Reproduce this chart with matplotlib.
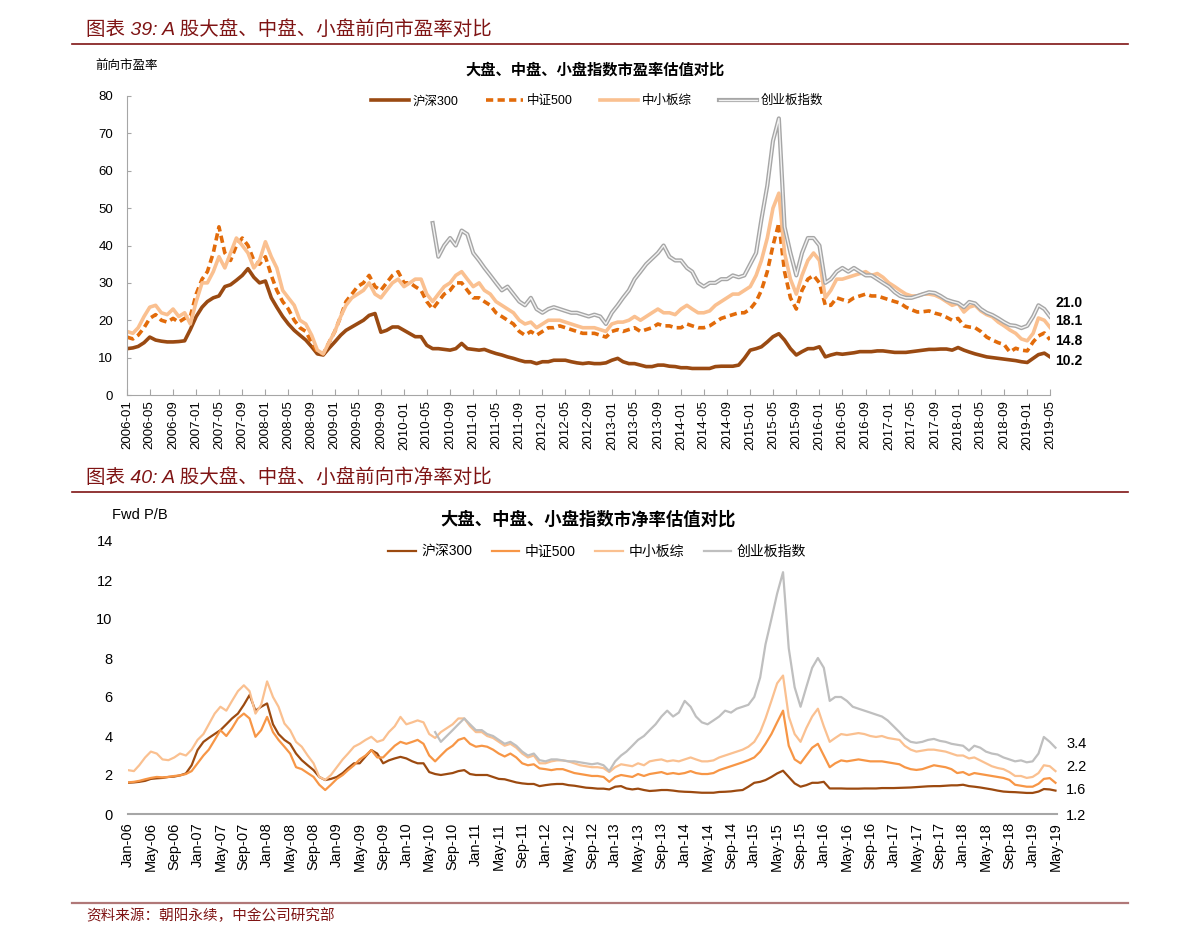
"""
A-share large / mid / small cap forward P/E and P/B comparison (two stacked panels).
Monthly values read off the reference chart.
"""

import pandas as pd
import matplotlib
matplotlib.use("Agg")
import matplotlib.pyplot as plt
import matplotlib.dates as mdates
import matplotlib.patheffects as pe
from matplotlib.lines import Line2D
from matplotlib.transforms import blended_transform_factory

plt.rcParams["font.family"] = ["Liberation Sans", "Noto Sans CJK SC", "DejaVu Sans"]

MONTHS = pd.date_range("2006-01-01", periods=161, freq="MS")
GEM_MONTHS = pd.date_range("2010-06-01", periods=108, freq="MS")  # 创业板 starts mid-2010

SERIES_NAMES = ["沪深300", "中证500", "中小板综", "创业板指数"]

# ---- forward P/E (top panel) ----
hs300_pe = [
    12.4, 12.6, 13.0, 14.0, 15.5, 14.7, 14.4, 14.2, 14.2, 14.3, 14.5, 17.5,
    21.0, 23.5, 25.0, 26.0, 26.5, 29.0, 29.5, 30.7, 32.0, 33.8, 31.5, 30.0,
    30.5, 26.0, 23.5, 21.0, 19.0, 17.3, 16.0, 14.7, 12.9, 11.0, 10.7, 12.5,
    14.2, 16.0, 17.3, 18.2, 19.1, 20.0, 21.3, 21.8, 16.8, 17.3, 18.2, 18.2,
    17.3, 16.4, 15.6, 15.6, 13.3, 12.4, 12.4, 12.2, 12.0, 12.4, 13.8, 12.4,
    12.2, 12.0, 12.2, 11.6, 11.1, 10.7, 10.2, 9.8, 9.3, 8.9, 8.9, 8.4,
    8.9, 8.9, 9.3, 9.3, 9.3, 8.9, 8.6, 8.4, 8.6, 8.4, 8.4, 8.6,
    9.3, 9.8, 8.9, 8.4, 8.4, 8.0, 7.6, 7.6, 8.0, 8.0, 7.7, 7.6,
    7.3, 7.3, 7.1, 7.1, 7.1, 7.1, 7.6, 7.7, 7.7, 7.7, 8.0, 9.8,
    12.0, 12.4, 12.9, 14.2, 15.6, 16.4, 14.7, 12.4, 10.7, 11.6, 12.4, 12.4,
    12.9, 10.2, 10.7, 11.1, 10.9, 11.1, 11.3, 11.6, 11.6, 11.6, 11.8, 11.8,
    11.6, 11.4, 11.4, 11.4, 11.6, 11.8, 12.0, 12.2, 12.2, 12.3, 12.3, 12.0,
    12.7, 12.0, 11.5, 11.0, 10.6, 10.2, 10.0, 9.8, 9.6, 9.4, 9.2, 8.9,
    8.7, 9.8, 10.8, 11.2, 10.2,
]
csi500_pe = [
    15.5, 15.0, 16.0, 18.0, 20.5, 21.5, 20.0, 19.5, 20.5, 19.5, 20.5, 21.0,
    27.0, 31.0, 33.0, 38.0, 45.0, 38.0, 36.0, 40.0, 42.0, 40.0, 36.0, 35.0,
    37.0, 32.0, 28.0, 25.0, 23.0, 20.0, 18.0, 17.0, 14.0, 11.5, 11.0, 14.0,
    17.0, 21.0, 25.0, 27.0, 29.0, 30.0, 32.0, 29.0, 28.0, 30.0, 32.0, 33.0,
    30.0, 30.0, 29.0, 28.0, 25.0, 23.0, 25.0, 27.0, 28.0, 30.0, 30.0, 28.0,
    26.0, 26.0, 25.0, 24.0, 22.0, 21.0, 20.0, 19.0, 17.0, 16.0, 17.0, 16.0,
    17.0, 18.0, 18.0, 18.5, 18.0, 17.5, 17.0, 16.5, 16.5, 16.5, 16.0, 15.5,
    17.0, 17.5, 17.0, 17.5, 18.0, 17.0, 17.5, 18.0, 19.0, 18.5, 18.5, 18.0,
    18.0, 19.0, 18.5, 18.0, 18.0, 18.5, 19.5, 20.5, 21.0, 21.5, 22.0, 22.0,
    23.0, 25.0, 28.0, 33.0, 40.0, 46.0, 33.0, 26.0, 23.0, 28.0, 31.0, 32.0,
    30.0, 24.0, 24.0, 26.0, 25.5, 25.0, 26.0, 26.5, 27.0, 26.5, 26.5, 26.0,
    25.5, 25.0, 24.6, 23.5, 22.8, 22.2, 22.3, 22.5, 21.9, 21.5, 20.8, 20.0,
    20.5, 18.5, 18.2, 18.0, 17.0, 15.5, 14.7, 14.0, 13.5, 11.5, 12.5, 12.0,
    11.8, 14.2, 15.8, 16.6, 14.8,
]
sme_pe = [
    17.0, 16.5, 18.0, 21.0, 23.5, 24.0, 22.0, 21.5, 23.0, 21.0, 22.0, 19.0,
    25.0, 30.0, 30.0, 33.0, 37.0, 34.0, 38.0, 42.0, 40.0, 38.0, 34.0, 36.0,
    41.0, 37.0, 34.0, 28.0, 26.0, 24.0, 20.0, 19.0, 16.0, 12.0, 11.0, 14.0,
    17.0, 21.0, 24.0, 26.0, 27.0, 28.0, 30.0, 27.0, 26.0, 28.0, 30.0, 31.0,
    29.0, 30.0, 31.0, 31.0, 27.0, 25.0, 27.0, 29.0, 30.0, 32.0, 33.0, 31.0,
    29.0, 30.0, 28.0, 27.0, 25.0, 24.0, 23.0, 22.0, 20.0, 19.0, 19.5, 18.0,
    19.0, 20.0, 20.0, 20.0, 19.5, 19.0, 18.5, 18.0, 18.0, 18.0, 17.5, 17.0,
    19.0, 19.5, 19.5, 20.0, 21.0, 20.0, 21.0, 22.0, 23.0, 22.0, 22.0, 21.5,
    23.0, 24.0, 23.0, 22.0, 22.0, 22.5, 24.0, 25.0, 26.0, 27.0, 27.0, 28.0,
    29.0, 32.0, 36.0, 42.0, 50.0, 54.0, 38.0, 31.0, 27.0, 32.0, 36.0, 38.0,
    36.0, 26.0, 28.0, 31.0, 31.0, 31.5, 32.0, 32.5, 33.0, 32.0, 32.5, 31.5,
    30.0, 29.0, 28.0, 27.0, 26.5, 26.5, 27.0, 27.0, 26.7, 26.0, 25.0, 24.0,
    24.5, 22.2, 23.5, 24.0, 22.5, 21.5, 20.9, 19.5, 18.5, 17.4, 16.5, 15.0,
    14.5, 16.5, 20.6, 20.0, 18.1,
]
gem_pe = [
    46.0, 37.0, 40.0, 42.0, 40.0, 44.0, 43.0,
    38.0, 36.0, 34.0, 32.0, 30.0, 28.0, 29.0, 27.0, 25.0, 24.0, 26.0, 23.0,
    22.0, 23.0, 23.5, 23.0, 22.5, 22.0, 22.0, 21.5, 21.0, 21.5, 21.0, 19.0,
    22.0, 24.0, 26.0, 28.0, 31.0, 33.0, 35.0, 36.5, 38.0, 40.0, 37.0, 36.0,
    36.0, 34.0, 33.0, 30.0, 29.0, 30.0, 30.0, 31.0, 31.0, 32.0, 31.5, 32.0,
    35.0, 38.0, 47.0, 56.0, 68.0, 74.0, 45.0, 38.0, 32.0, 38.0, 42.0, 42.0,
    40.0, 30.0, 31.0, 33.0, 34.0, 33.0, 34.0, 33.0, 32.0, 32.0, 31.0, 30.0,
    29.0, 27.5, 26.5, 26.0, 26.0, 26.5, 27.0, 27.5, 27.3, 26.5, 25.5, 25.0,
    24.6, 23.5, 24.9, 24.5, 23.0, 22.0, 21.4, 20.5, 19.5, 18.7, 18.5, 17.9,
    18.5, 21.0, 24.0, 23.0, 21.0,
]

# ---- forward P/B (bottom panel) ----
hs300_pb = [
    1.60, 1.62, 1.65, 1.70, 1.80, 1.83, 1.85, 1.90, 1.92, 1.98, 2.08, 2.50,
    3.28, 3.70, 3.90, 4.10, 4.30, 4.60, 4.90, 5.15, 5.60, 6.10, 5.30, 5.50,
    5.67, 4.60, 4.10, 3.80, 3.60, 3.10, 2.76, 2.50, 2.25, 1.90, 1.74, 1.80,
    1.90, 2.10, 2.35, 2.60, 2.60, 2.95, 3.28, 3.10, 2.60, 2.75, 2.85, 2.93,
    2.85, 2.70, 2.60, 2.60, 2.15, 2.05, 2.00, 2.05, 2.10, 2.20, 2.25, 2.05,
    2.00, 2.00, 2.00, 1.90, 1.80, 1.78, 1.70, 1.62, 1.57, 1.54, 1.54, 1.43,
    1.48, 1.52, 1.54, 1.54, 1.48, 1.45, 1.40, 1.35, 1.33, 1.30, 1.30, 1.26,
    1.40, 1.43, 1.31, 1.26, 1.30, 1.23, 1.18, 1.20, 1.23, 1.23, 1.20, 1.16,
    1.14, 1.13, 1.11, 1.09, 1.09, 1.09, 1.13, 1.14, 1.16, 1.20, 1.23, 1.40,
    1.60, 1.65, 1.74, 1.90, 2.08, 2.22, 1.90, 1.57, 1.40, 1.48, 1.60, 1.60,
    1.65, 1.31, 1.31, 1.31, 1.30, 1.30, 1.30, 1.31, 1.31, 1.31, 1.33, 1.33,
    1.33, 1.34, 1.35, 1.36, 1.38, 1.40, 1.42, 1.43, 1.43, 1.45, 1.47, 1.47,
    1.50, 1.43, 1.40, 1.36, 1.31, 1.26, 1.20, 1.15, 1.13, 1.12, 1.10, 1.08,
    1.08, 1.15, 1.28, 1.26, 1.20,
]
csi500_pb = [
    1.62, 1.65, 1.70, 1.78, 1.85, 1.90, 1.88, 1.90, 1.95, 1.98, 2.05, 2.20,
    2.60, 3.00, 3.30, 3.80, 4.30, 4.00, 4.40, 4.90, 5.15, 4.90, 3.96, 4.30,
    4.98, 4.20, 3.80, 3.45, 3.10, 2.40, 2.30, 2.10, 1.90, 1.50, 1.23, 1.50,
    1.80, 2.00, 2.25, 2.50, 2.80, 3.00, 3.28, 2.90, 2.90, 3.20, 3.50, 3.70,
    3.60, 3.70, 3.80, 3.60, 3.00, 2.70, 3.00, 3.30, 3.50, 3.80, 3.90, 3.60,
    3.45, 3.50, 3.45, 3.30, 3.10, 2.95, 3.10, 2.90, 2.60, 2.50, 2.55, 2.34,
    2.30, 2.25, 2.30, 2.30, 2.20, 2.10, 2.05, 2.00, 1.95, 1.95, 1.90, 1.65,
    1.90, 2.00, 1.95, 1.90, 2.05, 1.95, 2.05, 2.10, 2.15, 2.05, 2.10, 2.05,
    2.10, 2.20, 2.10, 2.05, 2.05, 2.10, 2.25, 2.35, 2.45, 2.55, 2.65, 2.76,
    2.90, 3.20, 3.60, 4.10, 4.70, 5.30, 3.50, 2.80, 2.60, 3.00, 3.40, 3.60,
    3.00, 2.40, 2.60, 2.75, 2.70, 2.75, 2.80, 2.75, 2.70, 2.70, 2.70, 2.65,
    2.60, 2.55, 2.40, 2.30, 2.26, 2.30, 2.40, 2.50, 2.45, 2.40, 2.30, 2.10,
    2.15, 2.00, 2.10, 2.05, 2.00, 1.95, 1.90, 1.85, 1.75, 1.50, 1.45, 1.40,
    1.40, 1.55, 1.80, 1.84, 1.60,
]
sme_pb = [
    2.25, 2.20, 2.50, 2.90, 3.20, 3.10, 2.80, 2.76, 2.90, 3.10, 3.00, 3.30,
    3.80, 4.10, 4.60, 5.15, 5.50, 5.30, 5.80, 6.30, 6.60, 6.30, 5.15, 5.60,
    6.80, 6.00, 5.50, 4.64, 4.30, 3.70, 3.45, 3.00, 2.60, 1.90, 1.75, 2.00,
    2.40, 2.80, 3.10, 3.45, 3.60, 3.80, 3.96, 3.70, 3.80, 4.20, 4.50, 4.98,
    4.60, 4.70, 4.80, 4.70, 4.10, 3.90, 4.20, 4.40, 4.60, 4.90, 4.90, 4.50,
    4.20, 4.20, 4.00, 3.90, 3.70, 3.50, 3.60, 3.40, 3.10, 2.90, 3.00, 2.60,
    2.60, 2.70, 2.75, 2.75, 2.70, 2.60, 2.50, 2.45, 2.40, 2.40, 2.35, 2.15,
    2.40, 2.55, 2.50, 2.45, 2.60, 2.50, 2.70, 2.76, 2.80, 2.70, 2.75, 2.70,
    2.80, 2.90, 2.80, 2.70, 2.70, 2.75, 2.90, 3.00, 3.10, 3.20, 3.30, 3.45,
    3.70, 4.20, 4.90, 5.80, 6.70, 7.10, 5.00, 4.10, 3.70, 4.40, 5.00, 5.40,
    4.50, 3.70, 3.90, 4.10, 4.05, 4.10, 4.15, 4.10, 4.00, 3.95, 4.00, 3.90,
    3.85, 3.80, 3.50, 3.30, 3.20, 3.25, 3.30, 3.30, 3.25, 3.20, 3.10, 3.00,
    3.00, 2.85, 2.90, 2.75, 2.60, 2.45, 2.36, 2.30, 2.15, 1.95, 1.95, 1.85,
    1.90, 2.10, 2.50, 2.45, 2.20,
]
gem_pb = [
    4.20, 3.70, 4.00, 4.30, 4.60, 4.90, 4.60,
    4.30, 4.30, 4.10, 4.00, 3.80, 3.60, 3.70, 3.50, 3.20, 3.00, 3.10, 2.76,
    2.70, 2.80, 2.80, 2.75, 2.70, 2.70, 2.65, 2.60, 2.55, 2.60, 2.50, 2.20,
    2.70, 3.00, 3.20, 3.50, 3.80, 4.00, 4.30, 4.60, 5.00, 5.30, 5.00, 5.20,
    5.80, 5.50, 5.00, 4.70, 4.60, 4.80, 5.00, 5.30, 5.20, 5.40, 5.50, 5.60,
    6.00, 7.00, 8.70, 10.0, 11.3, 12.4, 8.50, 6.50, 5.50, 6.50, 7.50, 8.00,
    7.50, 5.80, 6.00, 6.00, 5.80, 5.50, 5.40, 5.30, 5.20, 5.10, 5.00, 4.80,
    4.50, 4.20, 3.90, 3.70, 3.65, 3.70, 3.80, 3.85, 3.75, 3.70, 3.60, 3.55,
    3.50, 3.25, 3.50, 3.40, 3.20, 3.10, 3.05, 2.90, 2.80, 2.70, 2.75, 2.65,
    2.70, 3.10, 3.95, 3.70, 3.40,
]

# where the end-value labels sit (data units), copied from the reference layout
PE_LABEL_Y = [24.6, 19.8, 14.4, 9.1]
PB_LABEL_Y = [3.59, 2.41, 1.23, -0.1]

DARK_RED = "#7F1414"
GRID_GRAY = "#A6A6A6"

W, H = 1191, 944


def fx(px):
    return px / W


def fy(py):
    return 1 - py / H


fig = plt.figure(figsize=(W / 100, H / 100), dpi=100)

# ---------------- section headers / rules ----------------
fig.text(fx(86), fy(30), "图表 39: A 股大盘、中盘、小盘前向市盈率对比", fontsize=14,
         color=DARK_RED, style="italic", va="center", ha="left")
fig.add_artist(Line2D([fx(72), fx(1128)], [fy(44), fy(44)], color=DARK_RED, lw=1.2))
fig.text(fx(86), fy(478), "图表 40: A 股大盘、中盘、小盘前向市净率对比", fontsize=14,
         color=DARK_RED, style="italic", va="center", ha="left")
fig.add_artist(Line2D([fx(72), fx(1128)], [fy(492), fy(492)], color=DARK_RED, lw=1.2))
fig.add_artist(Line2D([fx(72), fx(1128)], [fy(903), fy(903)], color="#B07878", lw=1.6))
fig.text(fx(86), fy(916), "资料来源：朝阳永续，中金公司研究部", fontsize=10.5,
         color=DARK_RED, style="italic", va="center", ha="left")

# ---------------- top panel: forward P/E ----------------
ax1 = fig.add_axes([fx(127), fy(395), fx(1050) - fx(127), fy(96) - fy(395)])
ax1.plot(MONTHS, hs300_pe, color="#9A4A12", lw=2.6, label=SERIES_NAMES[0])
ax1.plot(MONTHS, csi500_pe, color="#E26B0A", lw=2.6, ls=(0, (2.0, 1.2)), label=SERIES_NAMES[1])
ax1.plot(MONTHS, sme_pe, color="#FAC090", lw=2.6, label=SERIES_NAMES[2])
ax1.plot(GEM_MONTHS, gem_pe, color="#F2F2F2", lw=1.0, label=SERIES_NAMES[3],
         path_effects=[pe.Stroke(linewidth=3.0, foreground="#A6A6A6"), pe.Normal()])

ax1.set_ylim(0, 80)
ax1.set_yticks(range(0, 81, 10))
ax1.set_xlim(MONTHS[0], MONTHS[-1])
ax1.xaxis.set_major_locator(mdates.MonthLocator(bymonth=(1, 5, 9)))
ax1.xaxis.set_major_formatter(mdates.DateFormatter("%Y-%m"))
for side in ("top", "right"):
    ax1.spines[side].set_visible(False)
for side in ("left", "bottom"):
    ax1.spines[side].set_color(GRID_GRAY)
ax1.tick_params(axis="x", direction="in", length=4, color=GRID_GRAY, labelsize=9.5,
                labelrotation=90, pad=4)
ax1.tick_params(axis="y", direction="in", length=3, color=GRID_GRAY, labelsize=9.5, pad=10)

trans1 = blended_transform_factory(ax1.transAxes, ax1.transData)
pe_ends = [gem_pe[-1], sme_pe[-1], csi500_pe[-1], hs300_pe[-1]]
for val, ypos in zip(pe_ends, PE_LABEL_Y):
    ax1.text(1.006, ypos, f"{val:.1f}", transform=trans1, fontsize=10, fontweight="bold",
             va="center", ha="left")

fig.text(fx(95), fy(66), "前向市盈率", fontsize=9, va="center", ha="left")
fig.text(fx(595), fy(70), "大盘、中盘、小盘指数市盈率估值对比", fontsize=11, fontweight="bold",
         va="center", ha="center")
h1, l1 = ax1.get_legend_handles_labels()
fig.legend(h1, l1, loc="center", bbox_to_anchor=(fx(597), fy(101)), ncol=4, frameon=False,
           fontsize=9, handlelength=3.0, handletextpad=0.3, columnspacing=2.2)

# ---------------- bottom panel: forward P/B ----------------
ax2 = fig.add_axes([fx(128), fy(814), fx(1057) - fx(128), fy(541) - fy(814)])
ax2.plot(MONTHS, hs300_pb, color="#9C4A10", lw=1.6, label=SERIES_NAMES[0])
ax2.plot(MONTHS, csi500_pb, color="#F79646", lw=1.6, label=SERIES_NAMES[1])
ax2.plot(MONTHS, sme_pb, color="#FAC090", lw=1.6, label=SERIES_NAMES[2])
ax2.plot(GEM_MONTHS, gem_pb, color="#BFBFBF", lw=1.6, label=SERIES_NAMES[3])

ax2.set_ylim(0, 14)
ax2.set_yticks(range(0, 15, 2))
ax2.set_xlim(MONTHS[0], MONTHS[-1] + pd.Timedelta(days=8))
ax2.xaxis.set_major_locator(mdates.MonthLocator(bymonth=(1, 5, 9)))
ax2.xaxis.set_major_formatter(mdates.DateFormatter("%b-%y"))
for side in ("top", "right", "left"):
    ax2.spines[side].set_visible(False)
ax2.spines["bottom"].set_color(GRID_GRAY)
ax2.spines["bottom"].set_linewidth(1.5)
ax2.tick_params(axis="x", length=0, labelsize=10.5, labelrotation=90, pad=6)
ax2.tick_params(axis="y", length=0, labelsize=10.5, pad=11)

trans2 = blended_transform_factory(ax2.transAxes, ax2.transData)
pb_ends = [gem_pb[-1], sme_pb[-1], csi500_pb[-1], hs300_pb[-1]]
for val, ypos in zip(pb_ends, PB_LABEL_Y):
    ax2.text(1.01, ypos, f"{val:.1f}", transform=trans2, fontsize=10.5,
             va="center", ha="left")

fig.text(fx(112), fy(515), "Fwd P/B", fontsize=10.5, va="center", ha="left")
fig.text(fx(588), fy(519), "大盘、中盘、小盘指数市净率估值对比", fontsize=12.5, fontweight="bold",
         va="center", ha="center")
h2, l2 = ax2.get_legend_handles_labels()
fig.legend(h2, l2, loc="center", bbox_to_anchor=(fx(597), fy(552)), ncol=4, frameon=False,
           fontsize=10, handlelength=2.0, handletextpad=0.4, columnspacing=1.4)

fig.savefig("out.png", dpi=100)
plt.close(fig)
